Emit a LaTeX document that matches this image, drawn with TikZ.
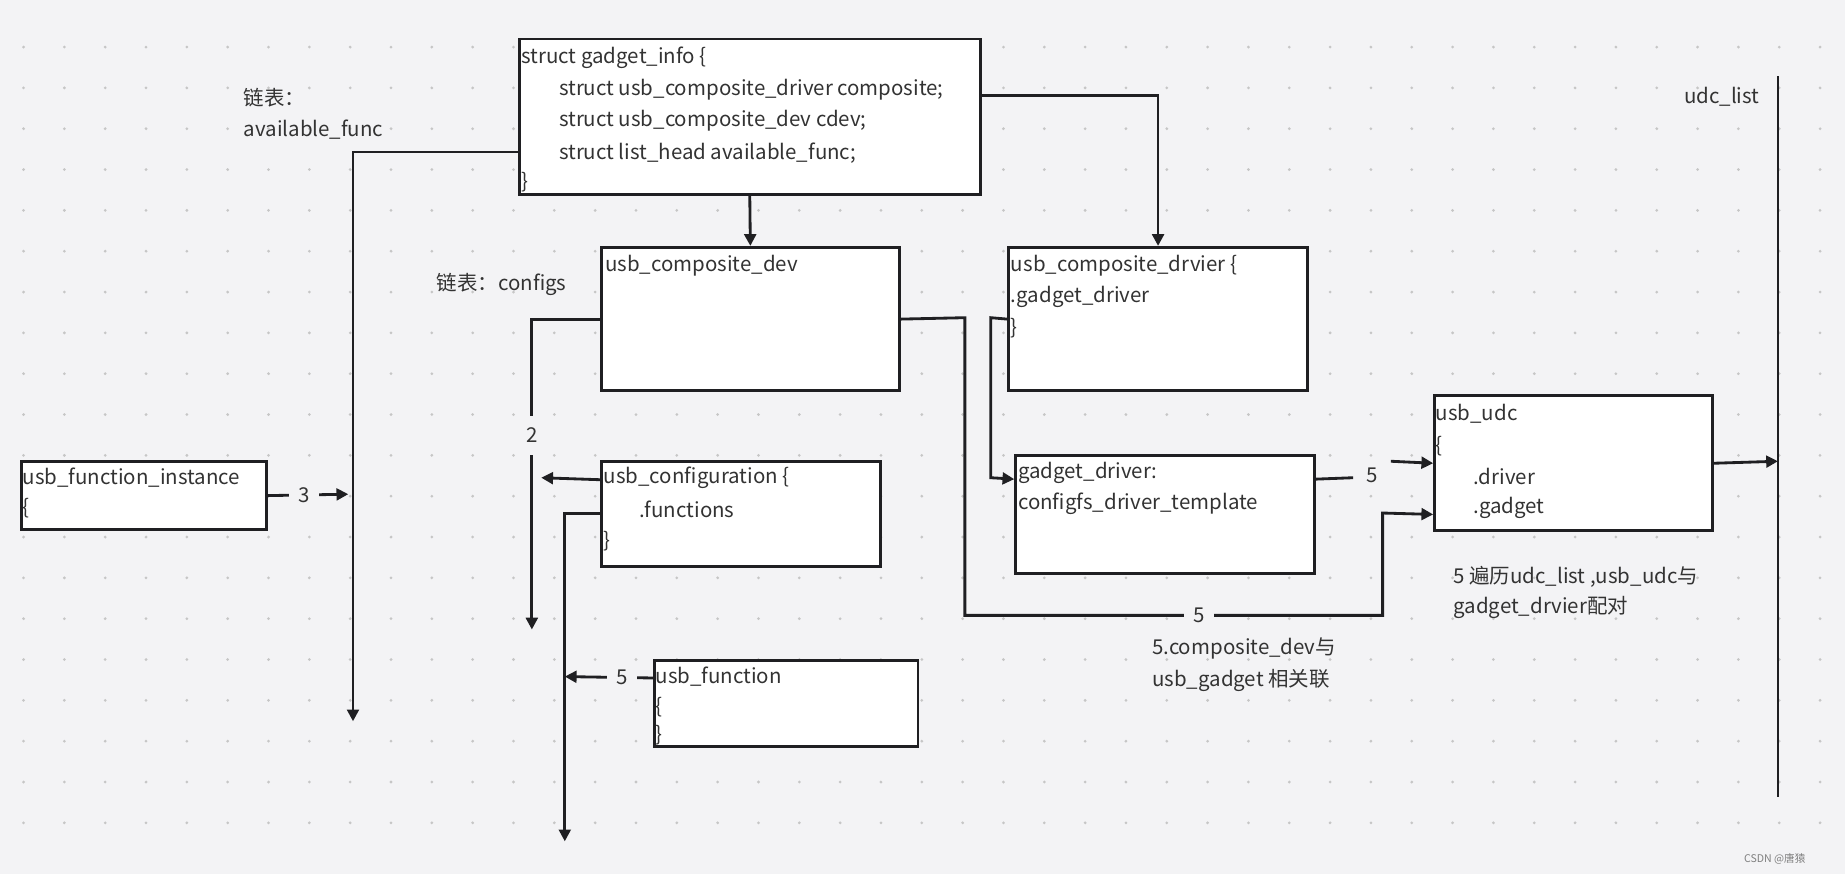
\documentclass[tikz,border=0pt]{standalone}
\usepackage{fontspec}
\setmainfont{Noto Sans CJK SC}
\usetikzlibrary{arrows.meta}
\definecolor{bg}{HTML}{F3F3F5}
\definecolor{ink}{HTML}{1F1F22}
\definecolor{txt}{HTML}{333333}
\begin{document}
\begin{tikzpicture}[x=1pt,y=-1pt,
  box/.style={draw=ink,line width=2.4pt,fill=white,rectangle,anchor=north west,inner sep=0},
  t/.style={anchor=west,inner sep=0,text=txt,font=\fontsize{17.4}{19}\selectfont},
  ln/.style={draw=ink,line width=2.4pt},
  ar/.style={ln,-{Triangle[length=10pt,width=10pt]}},
  lab/.style={fill=bg,inner xsep=8pt,inner ysep=3pt,text=txt,font=\fontsize{17.4}{19}\selectfont}]
\fill[bg] (0,0) rectangle (1568,743);
\useasboundingbox (0,0) rectangle (1568,743);
\foreach \i in {0,...,44} \foreach \j in {0,...,19}
  \fill[gray!45] (20+34.7*\i,40+34.7*\j) circle (1.3);
% boxes
\node[box,minimum width=392,minimum height=132] (gi) at (440,32) {};
\node[box,minimum width=253,minimum height=122] (cd) at (510,209) {};
\node[box,minimum width=254,minimum height=122] (cdr) at (856,209) {};
\node[box,minimum width=237,minimum height=89] (conf) at (510,391) {};
\node[box,minimum width=208,minimum height=58] (fi) at (17,391) {};
\node[box,minimum width=254,minimum height=100] (gd) at (862,386) {};
\node[box,minimum width=236,minimum height=115] (udc) at (1218,335) {};
\node[box,minimum width=224,minimum height=73] (uf) at (555,560) {};
% texts
\node[t] (g1) at (443,49) {struct gadget\_info \{};
\node[t] (g2) at (475,76) {struct usb\_composite\_driver composite;};
\node[t] (g3) at (475,103) {struct usb\_composite\_dev cdev;};
\node[t] (g4) at (475,130) {struct list\_head available\_func;};
\node[t] (g5) at (443,155) {\}};
\node[t] (c1) at (514,226) {usb\_composite\_dev};
\node[t] (r1) at (859,226) {usb\_composite\_drvier \{};
\node[t] (r2) at (859,252) {.gadget\_driver};
\node[t] (r3) at (859,279) {\}};
\node[t] (f1) at (513,406) {usb\_configuration \{};
\node[t] (f2) at (543,433) {.functions};
\node[t] (f3) at (513,460) {\}};
\node[t] (i1) at (19,406) {usb\_function\_instance};
\node[t] (i2) at (19,432) {\{};
\node[t] (d1) at (865,402) {gadget\_driver:};
\node[t] (d2) at (865,428) {configfs\_driver\_template};
\node[t] (u1) at (1220,352) {usb\_udc};
\node[t] (u2) at (1220,379) {\{};
\node[t] (u3) at (1252,405) {.driver};
\node[t] (u4) at (1252,432) {.gadget};
\node[t] (s1) at (557,575) {usb\_function};
\node[t] (s2) at (557,601) {\{};
\node[t] (s3) at (557,625) {\}};
\node[t] (l1) at (207,83) {链表：};
\node[t] (l2) at (207,110) {available\_func};
\node[t] (l3) at (371,242) {链表：configs};
\node[t] (l4) at (1431,82) {udc\_list};
\node[t] (l5) at (979,551) {5.composite\_dev与};
\node[t] (l6) at (979,578) {usb\_gadget 相关联};
\node[t] (l7) at (1235,490) {5 遍历udc\_list ,usb\_udc与};
\node[t] (l8) at (1235,516) {gadget\_drvier配对};
\node[t,font=\fontsize{9}{10}\selectfont,text=gray] (wm) at (1482,730) {CSDN @唐猿};
% udc_list bar
\coordinate (ut) at (1511,65);
\coordinate (ub) at (1511,677);
\draw[ln] (ut) -- (ub);
% connectors
\coordinate (e1) at (300,613);
\draw[ar] ([yshift=-30pt]gi.west) -| (e1);
\draw[ar] (gi.south) -- (cd.north);
\draw[ar] ([yshift=18pt]gi.east) -| (cdr.north);
\coordinate (e2) at (452,535);
\draw[ar] (cd.west) -| (e2);
\node[lab,inner xsep=3pt,inner ysep=10pt] (n2) at (452,370) {2};
\coordinate (e3) at (460,406);
\draw[ar] ([yshift=29pt]conf.west) -- (e3);
\coordinate (e4) at (480,715);
\draw[ar] (conf.west) -| (e4);
\coordinate (e5) at (480,575);
\draw[ar] ([yshift=21.5pt]uf.west) -- (e5) node[lab,pos=0.35] {5};
\coordinate (e6) at (296,420);
\draw[ar] (fi.east) -- (e6) node[lab,pos=0.45] {3};
\draw[ar] (cd.east) -- (820,270) -- (820,523) -- (1175,523) node[lab,pos=0.56] {5} -- (1175,436) -- ([yshift=-43.5pt]udc.west);
\draw[ar] (cdr.west) -- (842,270) -- (842,406) -- ([yshift=30pt]gd.west);
\coordinate (e7) at (1150,406);
\draw[ln] ([yshift=30pt]gd.east) -- (e7);
\node[lab,fill=none] (n5) at (1166,404) {5};
\coordinate (e8) at (1182,392);
\draw[ar] (e8) -- (udc.west);
\draw[ar] (udc.east) -- (1511,392);
\end{tikzpicture}
\end{document}
